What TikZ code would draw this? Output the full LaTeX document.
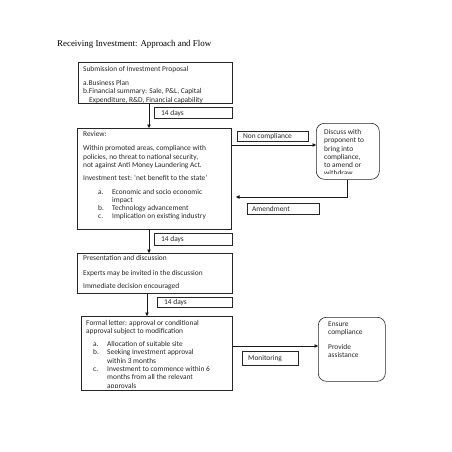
\documentclass[tikz,border=0pt]{standalone}
\usepackage{fontspec}
\setmainfont{Carlito}
\newfontfamily\titlefont{Liberation Serif}
\usetikzlibrary{arrows.meta}
\tikzset{
  box/.style={draw=black!85, line width=0.6pt, rectangle, inner sep=0pt, anchor=north west},
  rbox/.style={box, rounded corners=8pt},
  lbl/.style={draw=black!85, line width=0.6pt, rectangle, inner sep=0pt, anchor=north west},
  txt/.style={anchor=base west, inner sep=0pt, font=\fontsize{7.4}{8}\selectfont, text=black!85},
  arr/.style={draw=black!90, line width=0.6pt, -{Triangle[length=3.5pt,width=3.5pt]}},
  ln/.style={draw=black!90, line width=0.6pt}
}
\begin{document}
\begin{tikzpicture}[x=1pt,y=-1pt]
\useasboundingbox[fill=white] (0,0) rectangle (452,452);
% title
\node[anchor=base west, inner sep=0pt, font=\titlefont\fontsize{8.9}{10}\selectfont] (title) at (57,47) {Receiving Investment: Approach and Flow};

% box 1
\node[box, minimum width=154pt, minimum height=41pt] (sub) at (78,62) {};
\node[txt] (s1) at (83,71.5) {Submission of Investment Proposal};
\node[txt] (s2) at (83,85) {a.Business Plan};
\node[txt] (s3) at (83,93.5) {b.Financial summary: Sale, P\&L, Capital};
\node[txt] (s4) at (89,102) {Expenditure, R\&D, Financial capability};

% label 14 days 1
\node[lbl, minimum width=78pt, minimum height=11pt] (d1) at (154,107) {};
\node[txt] (d1t) at (161,115) {14 days};

% review
\node[box, minimum width=154pt, minimum height=101pt] (rev) at (77,128) {};
\node[txt] (r1) at (83,136.5) {Review:};
\node[txt] (r2) at (83,150.5) {Within promoted areas, compliance with};
\node[txt] (r3) at (83,159) {policies, no threat to national security,};
\node[txt] (r4) at (83,167.5) {not against Anti Money Laundering Act.};
\node[txt] (r5) at (83,180.5) {Investment test: `net benefit to the state'};
\node[txt] (r6a) at (98,194.5) {a.};
\node[txt] (r6) at (112,194.5) {Economic and socio economic};
\node[txt] (r7) at (112,202.5) {impact};
\node[txt] (r8a) at (98,210.5) {b.};
\node[txt] (r8) at (112,210.5) {Technology advancement};
\node[txt] (r9a) at (98,218.5) {c.};
\node[txt] (r9) at (112,218.5) {Implication on existing industry};

% non compliance
\node[lbl, minimum width=71pt, minimum height=10pt] (nc) at (237,131) {};
\node[txt] (nct) at (243,138.5) {Non compliance};

% discuss
\node[rbox, minimum width=63pt, minimum height=56pt] (disc) at (316,123) {};
\begin{scope}
\clip (316,123) rectangle (379,173.8);
\node[txt] (dc1) at (324,134.5) {Discuss with};
\node[txt] (dc2) at (324,142.5) {proponent to};
\node[txt] (dc3) at (324,151) {bring into};
\node[txt] (dc4) at (324,159) {compliance,};
\node[txt] (dc5) at (324,167) {to amend or};
\node[txt] (dc6) at (324,175.5) {withdraw};
\end{scope}

% amendment
\node[lbl, minimum width=72pt, minimum height=11pt] (am) at (247,203) {};
\node[txt] (amt) at (252,211) {Amendment};

% 14 days 2
\node[lbl, minimum width=78pt, minimum height=12pt] (d2) at (154,233) {};
\node[txt] (d2t) at (161,241.5) {14 days};

% presentation
\node[box, minimum width=155pt, minimum height=40pt] (pres) at (77,253) {};
\node[txt] (p1) at (83,260.5) {Presentation and discussion};
\node[txt] (p2) at (83,275.5) {Experts may be invited in the discussion};
\node[txt] (p3) at (83,288.5) {Immediate decision encouraged};

% 14 days 3
\node[lbl, minimum width=75pt, minimum height=10pt] (d3) at (157,297) {};
\node[txt] (d3t) at (164,304.5) {14 days};

% formal letter
\node[box, minimum width=151pt, minimum height=74pt] (form) at (81,316) {};
\begin{scope}
\clip (81,316) rectangle (232,387.8);
\node[txt] (f1) at (86,325.5) {Formal letter: approval or conditional};
\node[txt] (f2) at (86,333.5) {approval subject to modification};
\node[txt] (f3a) at (93,346.5) {a.};
\node[txt] (f3) at (107,346.5) {Allocation of suitable site};
\node[txt] (f4a) at (93,354.5) {b.};
\node[txt] (f4) at (107,354.5) {Seeking Investment approval};
\node[txt] (f5) at (107,363) {within 3 months};
\node[txt] (f6a) at (93,371.5) {c.};
\node[txt] (f6) at (107,371.5) {Investment to commence within 6};
\node[txt] (f7) at (107,379.5) {months from all the relevant};
\node[txt] (f8) at (107,388.5) {approvals};
\end{scope}

% monitoring
\node[lbl, minimum width=56pt, minimum height=14pt] (mon) at (242,351) {};
\node[txt] (mont) at (248,360) {Monitoring};

% ensure
\node[rbox, minimum width=67pt, minimum height=64pt] (ens) at (318,317) {};
\node[txt] (e1) at (328,326.5) {Ensure};
\node[txt] (e2) at (328,334.5) {compliance};
\node[txt] (e3) at (328,349.5) {Provide};
\node[txt] (e4) at (328,357.5) {assistance};

% connectors
\coordinate (xa) at (149,0);
\coordinate (xb) at (147,0);
\draw[arr] (sub.south -| xa) -- (rev.north -| xa);
\draw[arr] (rev.south -| xa) -- (pres.north -| xa);
\draw[arr] (pres.south -| xb) -- (form.north -| xb);

\coordinate (ync) at (0,145);
\draw[arr] (rev.east |- ync) -- (disc.west |- ync);

\coordinate (xd) at (347,0);
\coordinate (bend) at (347,197);
\coordinate (amend) at (236,197);
\draw[arr] (disc.south -| xd) -- (bend) -- (amend);

\coordinate (ym) at (0,346);
\draw[arr] (form.east |- ym) -- (ens.west |- ym);
\end{tikzpicture}
\end{document}
